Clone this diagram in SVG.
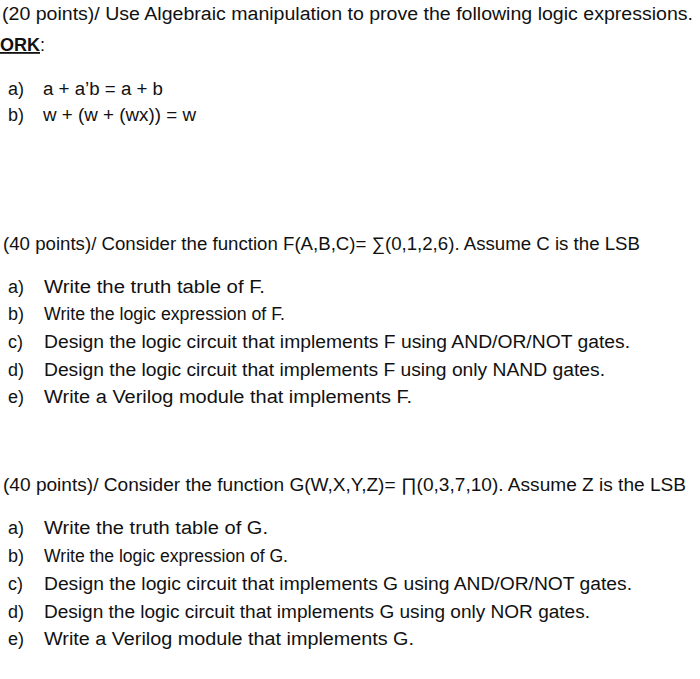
<svg xmlns="http://www.w3.org/2000/svg" width="700" height="679" viewBox="0 0 700 679">
<style>
text{font-family:"Liberation Sans","Open Sans",sans-serif;font-size:18px;fill:#111}
.b{font-weight:bold}
</style>
<rect width="700" height="679" fill="#fff"/>
<g id="q1">
<text x="2" y="20" textLength="691" lengthAdjust="spacingAndGlyphs">(20 points)/ Use Algebraic manipulation to prove the following logic expressions.</text>
<text x="0" y="51"><tspan class="b" text-decoration="underline">ORK</tspan>:</text>
<text x="8" y="95">a)</text><text x="43" y="95" textLength="120" lengthAdjust="spacingAndGlyphs">a + a’b = a + b</text>
<text x="8" y="121">b)</text><text x="43" y="121" textLength="153" lengthAdjust="spacingAndGlyphs">w + (w + (wx)) = w</text>
</g>
<g id="q2">
<text x="3" y="250" textLength="637" lengthAdjust="spacingAndGlyphs">(40 points)/ Consider the function F(A,B,C)= ∑(0,1,2,6). Assume C is the LSB</text>
<text x="8" y="293">a)</text><text x="44" y="293" textLength="221" lengthAdjust="spacingAndGlyphs">Write the truth table of F.</text>
<text x="8" y="320">b)</text><text x="44" y="320" textLength="241" lengthAdjust="spacingAndGlyphs">Write the logic expression of F.</text>
<text x="8" y="348">c)</text><text x="44" y="348" textLength="586" lengthAdjust="spacingAndGlyphs">Design the logic circuit that implements F using AND/OR/NOT gates.</text>
<text x="8" y="376">d)</text><text x="44" y="376" textLength="561" lengthAdjust="spacingAndGlyphs">Design the logic circuit that implements F using only NAND gates.</text>
<text x="8" y="403">e)</text><text x="44" y="403" textLength="368" lengthAdjust="spacingAndGlyphs">Write a Verilog module that implements F.</text>
</g>
<g id="q3">
<text x="3" y="491" textLength="683" lengthAdjust="spacingAndGlyphs">(40 points)/ Consider the function G(W,X,Y,Z)= ∏(0,3,7,10). Assume Z is the LSB</text>
<text x="8" y="534">a)</text><text x="44" y="534" textLength="224" lengthAdjust="spacingAndGlyphs">Write the truth table of G.</text>
<text x="8" y="562">b)</text><text x="44" y="562" textLength="244" lengthAdjust="spacingAndGlyphs">Write the logic expression of G.</text>
<text x="8" y="590">c)</text><text x="44" y="590" textLength="588" lengthAdjust="spacingAndGlyphs">Design the logic circuit that implements G using AND/OR/NOT gates.</text>
<text x="8" y="618">d)</text><text x="44" y="618" textLength="546" lengthAdjust="spacingAndGlyphs">Design the logic circuit that implements G using only NOR gates.</text>
<text x="8" y="645">e)</text><text x="44" y="645" textLength="370" lengthAdjust="spacingAndGlyphs">Write a Verilog module that implements G.</text>
</g>
</svg>
